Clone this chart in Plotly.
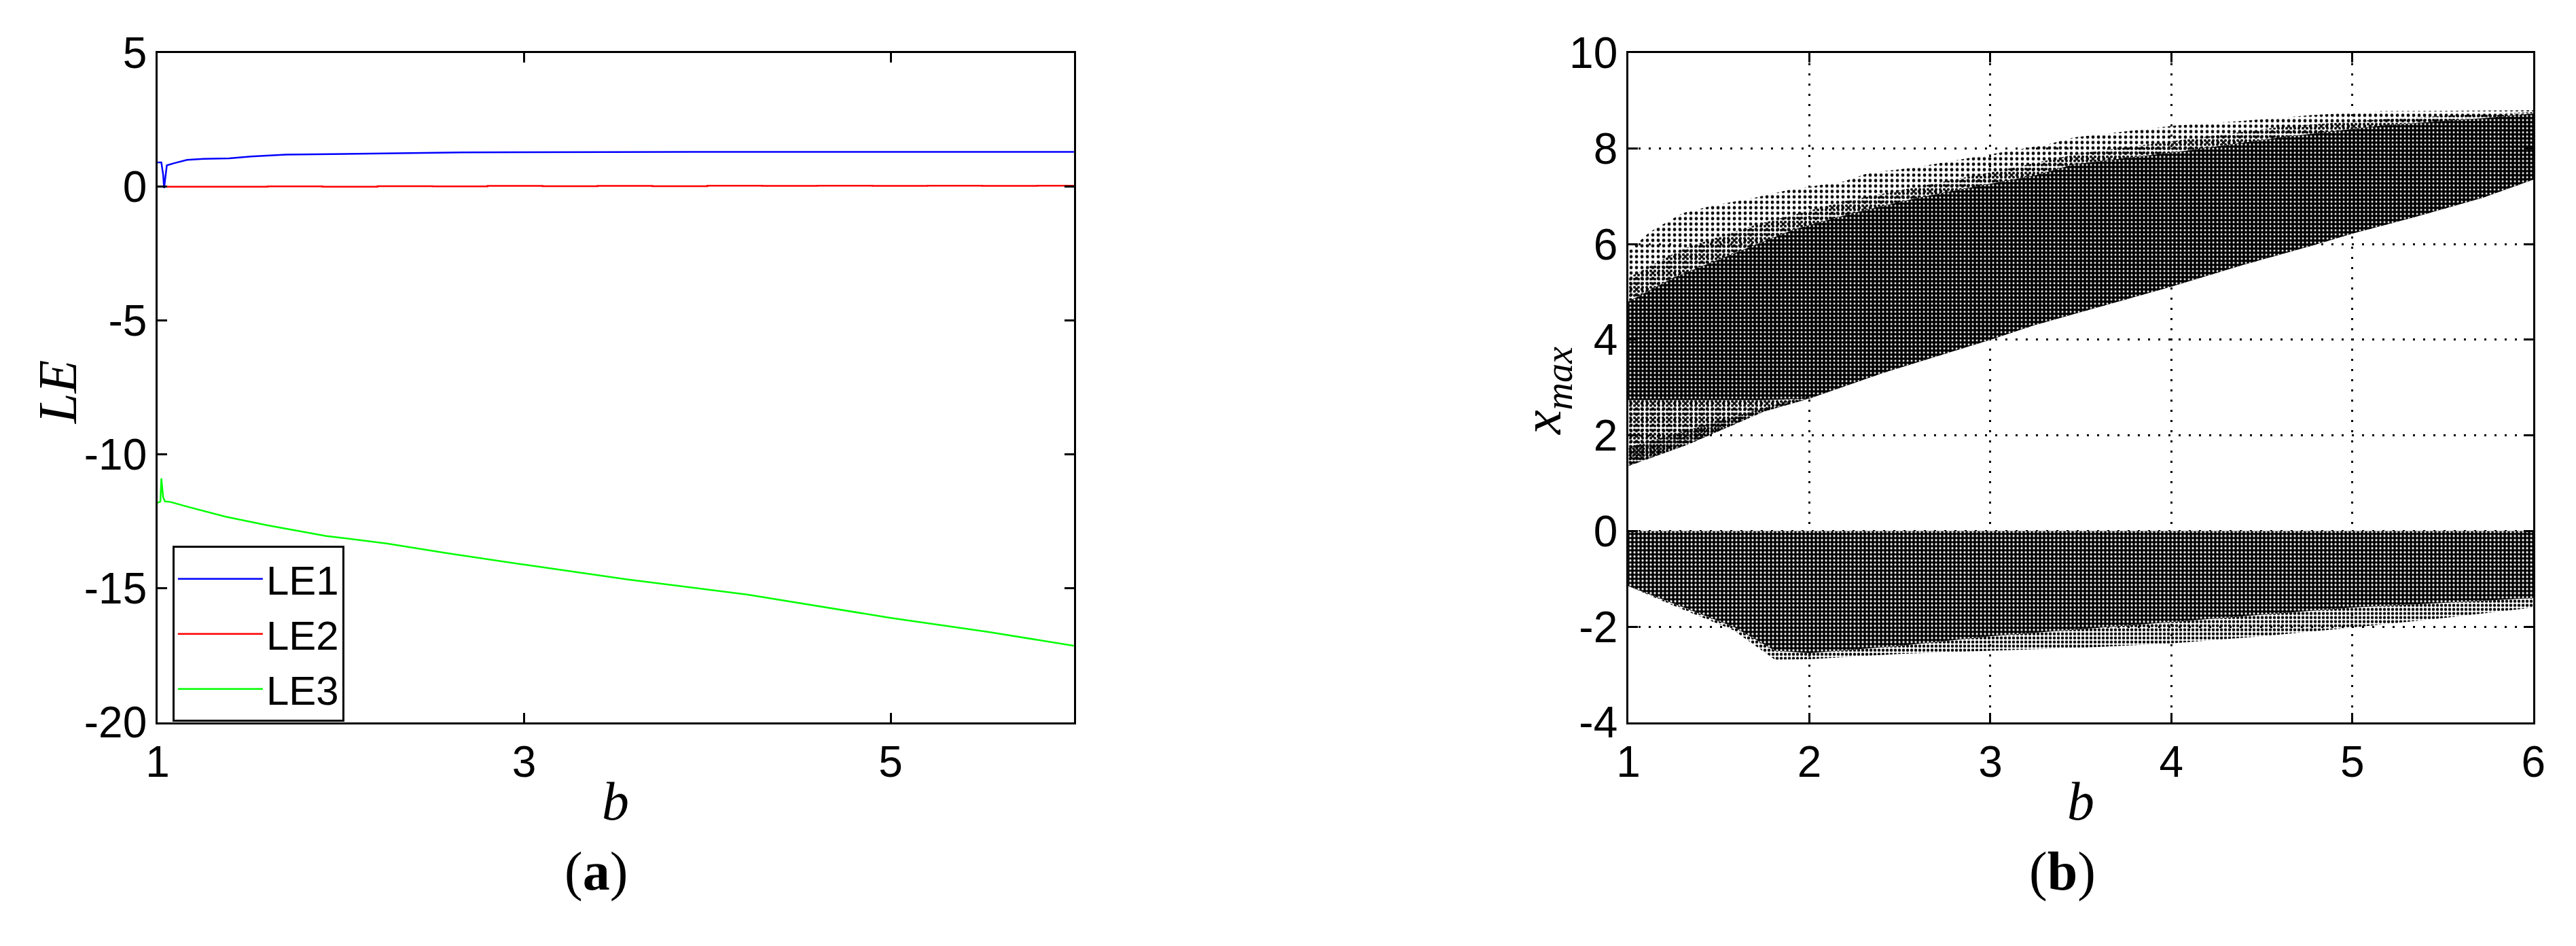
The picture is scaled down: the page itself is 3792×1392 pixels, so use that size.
import plotly.graph_objects as go

# ---- panel (a): Lyapunov exponents vs b ----
b_le1 = [1.0, 1.02, 1.03, 1.035, 1.05, 1.09, 1.16, 1.25, 1.39, 1.51, 1.7, 1.93, 2.09, 2.4, 2.66, 3.0, 3.5, 4.0, 4.5, 5.0, 5.5, 6.0]
le1 = [0.91, 0.91, 0.45, -0.05, 0.8, 0.88, 1.0, 1.04, 1.06, 1.13, 1.2, 1.22, 1.24, 1.26, 1.28, 1.29, 1.3, 1.3, 1.3, 1.3, 1.3, 1.3]

b_le2 = [1.0, 1.3, 1.6, 1.9, 2.2, 2.5, 2.8, 3.1, 3.4, 3.7, 4.0, 4.3, 4.6, 4.9, 5.2, 5.5, 5.8, 6.0]
le2 = [0.0, 0.0, 0.01, 0.0, 0.02, 0.01, 0.03, 0.02, 0.03, 0.02, 0.04, 0.03, 0.04, 0.03, 0.04, 0.03, 0.04, 0.04]

b_le3 = [1.0, 1.015, 1.02, 1.03, 1.04, 1.07, 1.17, 1.37, 1.6, 1.92, 2.25, 2.58, 3.0, 3.56, 4.22, 5.0, 5.53, 6.0]
le3 = [-11.8, -11.75, -10.89, -11.6, -11.75, -11.77, -11.96, -12.32, -12.64, -13.04, -13.32, -13.68, -14.11, -14.66, -15.23, -16.1, -16.62, -17.14]

le_ticks = [-20, -15, -10, -5, 0, 5]
le_ticktext = ["-20", "-15", "-10", "-5", "0", "5"]
b_ticks_a = [1, 3, 5]

# ---- panel (b): envelopes of the x_max cloud ----
# upper band: sparse top edge, medium top edge, dense core top edge, lower diagonal edge
b_up_top = [1.0, 1.12, 1.3, 1.46, 1.71, 1.88, 2.19, 2.33, 2.58, 3.0, 3.32, 3.46, 4.02, 4.4, 4.78, 5.16, 5.72, 6.0]
x_up_top = [5.85, 6.26, 6.65, 6.8, 6.98, 7.13, 7.31, 7.49, 7.6, 7.88, 8.09, 8.23, 8.48, 8.58, 8.7, 8.78, 8.8, 8.8]
b_up_mid = [1.0, 1.3, 1.7, 2.2, 2.6, 3.0, 3.5, 4.0, 4.6, 5.2, 5.7, 6.0]
x_up_mid = [5.3, 5.9, 6.4, 6.9, 7.2, 7.5, 7.9, 8.15, 8.45, 8.62, 8.72, 8.76]
b_up_core = [1.0, 1.25, 1.58, 1.91, 2.24, 2.58, 2.91, 3.24, 3.46, 4.02, 4.6, 5.16, 5.72, 6.0]
x_up_core = [4.8, 5.3, 5.8, 6.3, 6.65, 6.95, 7.2, 7.43, 7.67, 7.92, 8.23, 8.48, 8.63, 8.73]
b_up_low = [1.0, 1.33, 1.75, 2.0, 2.41, 2.74, 3.0, 3.24, 3.52, 4.0, 4.4, 4.78, 5.0, 5.35, 5.72, 6.0]
x_up_low = [1.36, 1.81, 2.5, 2.77, 3.31, 3.7, 4.0, 4.3, 4.6, 5.11, 5.57, 5.97, 6.22, 6.57, 6.97, 7.35]
# flat floor of the dense core for small b
b_core_floor = [1.75, 1.0]
x_core_floor = [2.74, 2.74]
# denser strip along the lower edge of the small-b wedge
b_wedge = [1.0, 1.33, 1.75, 2.0, 2.0, 1.5, 1.0]
x_wedge = [1.36, 1.81, 2.5, 2.77, 2.85, 2.3, 1.75]

# lower band: flat top at 0, outer bottom edge, dense core bottom edge
b_lo_top = [1.0, 6.0]
x_lo_top = [0.0, 0.0]
b_lo_bot = [1.0, 1.25, 1.58, 1.81, 2.0, 2.5, 3.0, 3.5, 4.0, 4.5, 5.0, 5.5, 6.0]
x_lo_bot = [-1.15, -1.56, -2.07, -2.69, -2.68, -2.57, -2.5, -2.44, -2.35, -2.2, -2.02, -1.82, -1.6]
b_lo_core = [1.0, 1.58, 1.81, 2.0, 2.5, 3.0, 3.5, 4.0, 4.5, 5.0, 5.5, 6.0]
x_lo_core = [-1.15, -2.0, -2.5, -2.55, -2.4, -2.2, -2.05, -1.9, -1.75, -1.6, -1.5, -1.4]

xmax_ticks = [-4, -2, 0, 2, 4, 6, 8, 10]
xmax_ticktext = ["-4", "-2", "0", "2", "4", "6", "8", "10"]

TICK_FONT = dict(family="Liberation Sans, Arial, sans-serif", size=64, color="black")
LEGEND_FONT = dict(family="Liberation Sans, Arial, sans-serif", size=60, color="black")
SERIF = "Liberation Serif, Times New Roman, serif"

fig = go.Figure()

fig.add_trace(go.Scatter(x=b_le1, y=le1, mode="lines", name="LE1",
                         line=dict(color="#0000ff", width=2.5)))
fig.add_trace(go.Scatter(x=b_le2, y=le2, mode="lines", name="LE2",
                         line=dict(color="#ff0000", width=2.5, shape="hv")))
fig.add_trace(go.Scatter(x=b_le3, y=le3, mode="lines", name="LE3",
                         line=dict(color="#00ff00", width=2.5)))


def band(bx, xv, fg, bg, size, solidity):
    # speckled cloud region, drawn as a dotted pattern fill
    fig.add_trace(go.Scatter(x=bx, y=xv, mode="lines", fill="toself",
                             fillcolor=bg, line=dict(width=0),
                             fillpattern=dict(shape=".", fgcolor=fg, bgcolor=bg,
                                              size=size, solidity=solidity,
                                              fillmode="replace"),
                             showlegend=False, hoverinfo="skip",
                             xaxis="x2", yaxis="y2"))


CLEAR = "rgba(0,0,0,0)"

# upper band layers
band(b_up_top + b_up_low[::-1], x_up_top + x_up_low[::-1], "black", CLEAR, 8, 0.28)
band(b_up_mid + b_up_low[::-1], x_up_mid + x_up_low[::-1], "black", CLEAR, 6, 0.38)
core_low_b = [b for b in b_up_low if b >= 2.0][::-1] + b_core_floor
core_low_x = [x for b, x in zip(b_up_low, x_up_low) if b >= 2.0][::-1] + x_core_floor
band(b_up_core + core_low_b, x_up_core + core_low_x, "white", "black", 6, 0.2)
band(b_wedge, x_wedge, "black", CLEAR, 5, 0.5)

# lower band layers
band(b_lo_top + b_lo_bot[::-1], x_lo_top + x_lo_bot[::-1], "black", CLEAR, 6, 0.45)
band(b_lo_top + b_lo_core[::-1], x_lo_top + x_lo_core[::-1], "white", "black", 6, 0.24)

axis_common = dict(showline=True, linecolor="black", linewidth=3, mirror="ticks",
                   ticks="inside", ticklen=14, tickwidth=3, tickcolor="black",
                   zeroline=False, tickfont=TICK_FONT)
grid = dict(showgrid=True, gridcolor="black", gridwidth=3, griddash="3px,12px")

fig.update_layout(
    width=3792, height=1392,
    margin=dict(l=0, r=0, t=0, b=0),
    paper_bgcolor="white", plot_bgcolor="white",
    xaxis=dict(domain=[0.0570, 0.4161], range=[1, 6], tickvals=b_ticks_a,
               showgrid=False, **axis_common),
    yaxis=dict(domain=[0.2220, 0.9684], range=[-20, 5], tickvals=le_ticks, ticktext=le_ticktext,
               showgrid=False, **axis_common),
    xaxis2=dict(domain=[0.6334, 0.9881], range=[1, 6], dtick=1, anchor="y2",
                **grid, **axis_common),
    yaxis2=dict(domain=[0.2220, 0.9684], range=[-4, 10], tickvals=xmax_ticks,
                ticktext=xmax_ticktext, anchor="x2", **grid, **axis_common),
    legend=dict(x=0.0628, y=0.4188, xanchor="left", yanchor="top",
                bgcolor="white", bordercolor="black", borderwidth=3,
                font=LEGEND_FONT, itemwidth=125),
)

label_font = dict(family=SERIF, size=80, color="black")
for txt, x, y, angle in [
    ("<i>b</i>", 0.2365, 0.1343, 0),
    ("<i>b</i>", 0.8107, 0.1343, 0),
    ("<i>LE</i>", 0.0177, 0.5905, -90),
    ("<i>x</i><sub><i>max</i></sub>", 0.601, 0.592, -90),
    ("(<b>a</b>)", 0.2289, 0.056, 0),
    ("(<b>b</b>)", 0.8035, 0.056, 0),
]:
    fig.add_annotation(text=txt, x=x, y=y, xref="paper", yref="paper",
                       xanchor="center", yanchor="middle", textangle=angle,
                       showarrow=False, font=label_font)

fig.write_html("out.html", config={"displayModeBar": False},
               post_script="document.body.style.margin='0';")
